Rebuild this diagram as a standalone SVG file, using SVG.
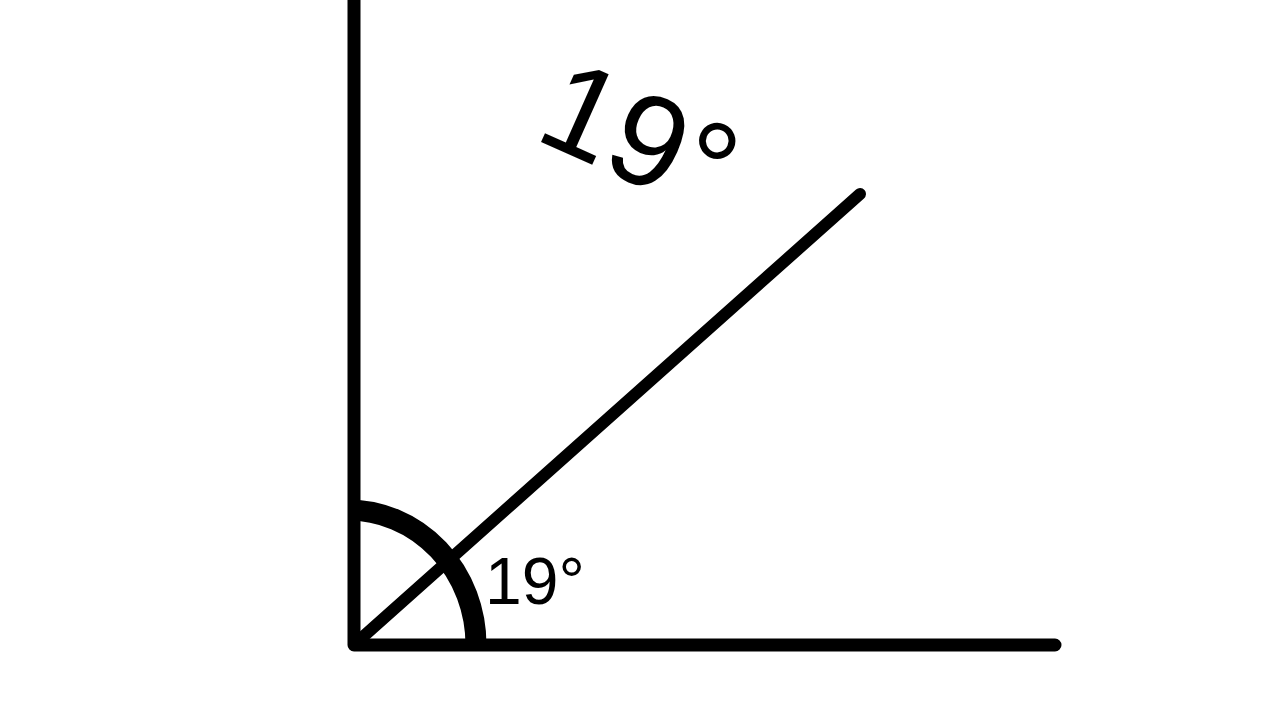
<svg xmlns="http://www.w3.org/2000/svg" width="1280" height="720" viewBox="0 0 1280 720">
<style>
.ln{stroke:#000;fill:none;stroke-linejoin:round}
.t{font-family:"Liberation Sans",Arial,sans-serif;fill:#000}
</style>
<rect width="1280" height="720" fill="#fff"/>
<g id="connectors">
<path class="ln" d="M354,-10 L354,645 L1055,645" stroke-width="13" stroke-linecap="round"/>
<path class="ln" d="M356,643 L860,194" stroke-width="12" stroke-linecap="round"/>
<path class="ln" d="M348,510 A128,135 0 0 1 476,645" stroke-width="21" stroke-linecap="butt"/>
</g>
<g id="label-small">
<text class="t" x="485" y="604" font-size="66">19°</text>
</g>
<g id="label-large">
<text class="t" x="0" y="0" font-size="130" font-family="DejaVu Sans, sans-serif" transform="translate(532,138) rotate(24)">19°</text>
</g>
</svg>
